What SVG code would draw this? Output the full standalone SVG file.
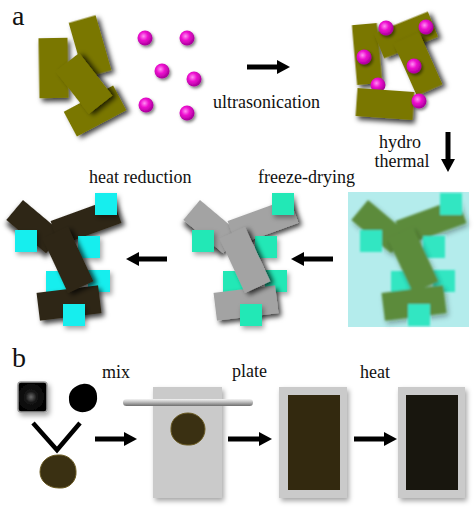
<svg xmlns="http://www.w3.org/2000/svg" width="474" height="531" viewBox="0 0 474 531">
<style>
text{font-family:"Liberation Serif","Times New Roman","DejaVu Serif",serif;fill:#111;}
.lbl{font-size:18px;}
.big{font-size:28px;}
.ol{fill:#7a7700;}
.dk{fill:#2e2515;}
.gy{fill:#a3a3a3;}
.gr{fill:#5b8b3b;}
.cy{fill:#12eeee;}
.tq{fill:#22e8b6;}
.tq2{fill:#30e6c2;}
.arr{stroke:#000;stroke-width:5;fill:none;}
</style>
<defs>
<filter id="sh" x="-40%" y="-40%" width="180%" height="180%">
<feDropShadow dx="2.5" dy="3.5" stdDeviation="2.6" flood-color="#000" flood-opacity="0.75"/>
</filter>
<filter id="sh2" x="-40%" y="-40%" width="180%" height="180%">
<feDropShadow dx="2" dy="3" stdDeviation="2.5" flood-color="#000" flood-opacity="0.35"/>
</filter>
<filter id="shs" x="-50%" y="-50%" width="200%" height="200%">
<feDropShadow dx="1.5" dy="2" stdDeviation="1.5" flood-color="#000" flood-opacity="0.5"/>
</filter>
<filter id="blur" x="-10%" y="-10%" width="120%" height="120%">
<feGaussianBlur stdDeviation="1.2"/>
</filter>
<radialGradient id="sph" cx="0.4" cy="0.38" r="0.62">
<stop offset="0" stop-color="#ff8ef2"/>
<stop offset="0.45" stop-color="#ee10d0"/>
<stop offset="1" stop-color="#a8009a"/>
</radialGradient>
<radialGradient id="blk" cx="0.45" cy="0.5" r="0.55">
<stop offset="0" stop-color="#6a6a6a"/>
<stop offset="0.35" stop-color="#151515"/>
<stop offset="1" stop-color="#000"/>
</radialGradient>
<linearGradient id="rod" x1="0" y1="0" x2="0" y2="1">
<stop offset="0" stop-color="#f4f4f4"/>
<stop offset="0.4" stop-color="#c4c4c4"/>
<stop offset="1" stop-color="#6e6e6e"/>
</linearGradient>
<marker id="ah" markerUnits="userSpaceOnUse" markerWidth="14" markerHeight="14" refX="2" refY="7" orient="auto">
<path d="M0,0 L13,7 L0,14 z" fill="#000"/>
</marker>
</defs>

<g id="label-a"><text class="big" x="12" y="25">a</text></g>

<g id="raw-materials">
<rect class="ol" x="-14.5" y="-30" width="29" height="60" transform="translate(53.5,68) rotate(-1)" filter="url(#sh)"/>
<rect class="ol" x="-14" y="-28.5" width="28" height="57" transform="translate(90,46.5) rotate(-16)" filter="url(#sh)"/>
<rect class="ol" x="-28" y="-14" width="56" height="28" transform="translate(95,111) rotate(-28)" filter="url(#sh)"/>
<rect class="ol" x="-15" y="-27" width="30" height="54" transform="translate(84,83.5) rotate(-38)" filter="url(#sh)"/>
</g>

<g id="nanoparticles" filter="url(#shs)">
<circle cx="145" cy="38" r="7.5" fill="url(#sph)"/>
<circle cx="187" cy="38" r="7.5" fill="url(#sph)"/>
<circle cx="162" cy="71" r="7.5" fill="url(#sph)"/>
<circle cx="194" cy="79" r="7.5" fill="url(#sph)"/>
<circle cx="146" cy="105" r="7.5" fill="url(#sph)"/>
<circle cx="187" cy="113" r="7.5" fill="url(#sph)"/>
</g>

<g id="step-ultrasonication"><text class="lbl" x="213" y="108">ultrasonication</text></g>

<g id="decorated">
<rect class="ol" x="-12.5" y="-30" width="25" height="60" transform="translate(367,54) rotate(-5)" filter="url(#sh)"/>
<rect class="ol" x="-29" y="-13.5" width="58" height="27" transform="translate(406,35) rotate(-22)" filter="url(#sh)"/>
<rect class="ol" x="-14" y="-28.5" width="28" height="57" transform="translate(418,64) rotate(-24)" filter="url(#sh)"/>
<circle cx="378" cy="85" r="7.5" fill="url(#sph)"/>
<rect class="ol" x="-28.5" y="-14" width="57" height="28" transform="translate(385,104) rotate(4)" filter="url(#sh)"/>
<g filter="url(#shs)">
<circle cx="386" cy="28" r="7.5" fill="url(#sph)"/>
<circle cx="426" cy="27" r="7.5" fill="url(#sph)"/>
<circle cx="364" cy="57" r="7.5" fill="url(#sph)"/>
<circle cx="414" cy="66" r="7.5" fill="url(#sph)"/>
<circle cx="419" cy="101" r="7.5" fill="url(#sph)"/>
</g>
</g>

<g id="step-hydrothermal">
<text class="lbl" x="400" y="148" text-anchor="middle">hydro</text>
<text class="lbl" x="402" y="167" text-anchor="middle">thermal</text>
</g>

<g id="hydrogel">
<rect x="348" y="192" width="121" height="135" fill="#b4ecec"/>
<g transform="translate(345,0)" filter="url(#blur)">
<g filter="url(#sh2)">
<rect class="gr" x="0" y="0" width="52" height="26" transform="translate(23,200) rotate(40)"/>
<rect class="gr" x="-33" y="-13" width="66" height="26" transform="translate(86,222) rotate(-20)"/>
</g>
<rect class="tq2" x="15" y="230" width="22" height="22"/>
<rect class="tq2" x="95" y="193" width="22" height="22"/>
<rect class="tq2" x="78" y="236" width="22" height="22"/>
<rect class="tq2" x="46" y="271" width="22" height="21"/>
<rect class="tq2" x="88" y="270" width="22" height="22"/>
<g filter="url(#sh2)">
<rect class="gr" x="-31" y="-14" width="62" height="28" transform="translate(69,303) rotate(-7)"/>
<rect class="gr" x="-14" y="-30" width="28" height="60" transform="translate(68,260) rotate(-25)"/>
</g>
<rect class="tq2" x="63" y="304" width="22" height="22"/>
</g>
</g>

<g id="step-freeze-drying"><text class="lbl" x="258" y="183">freeze-drying</text></g>

<g id="aerogel" transform="translate(177,0)">
<rect class="gy" x="0" y="0" width="52" height="26" transform="translate(23,200) rotate(40)" filter="url(#sh)"/>
<rect class="gy" x="-33" y="-13" width="66" height="26" transform="translate(86,222) rotate(-20)" filter="url(#sh)"/>
<g filter="url(#sh2)">
<rect class="tq" x="15" y="230" width="22" height="22"/>
<rect class="tq" x="95" y="193" width="22" height="22"/>
<rect class="tq" x="78" y="236" width="22" height="22"/>
<rect class="tq" x="46" y="271" width="22" height="21"/>
<rect class="tq" x="88" y="270" width="22" height="22"/>
</g>
<rect class="gy" x="-31" y="-14" width="62" height="28" transform="translate(69,303) rotate(-7)" filter="url(#sh)"/>
<rect class="gy" x="-14" y="-30" width="28" height="60" transform="translate(68,260) rotate(-25)" filter="url(#sh)"/>
<rect class="tq" x="63" y="304" width="22" height="22" filter="url(#sh2)"/>
</g>

<g id="step-heat-reduction"><text class="lbl" x="89" y="183">heat reduction</text></g>

<g id="reduced">
<rect class="dk" x="0" y="0" width="52" height="26" transform="translate(23,200) rotate(40)" filter="url(#sh)"/>
<rect class="dk" x="-33" y="-13" width="66" height="26" transform="translate(86,222) rotate(-20)" filter="url(#sh)"/>
<g filter="url(#sh2)">
<rect class="cy" x="15" y="230" width="22" height="22"/>
<rect class="cy" x="95" y="193" width="22" height="22"/>
<rect class="cy" x="78" y="236" width="22" height="22"/>
<rect class="cy" x="46" y="271" width="22" height="21"/>
<rect class="cy" x="88" y="270" width="22" height="22"/>
</g>
<rect class="dk" x="-31" y="-14" width="62" height="28" transform="translate(69,303) rotate(-7)" filter="url(#sh)"/>
<rect class="dk" x="-14" y="-30" width="28" height="60" transform="translate(68,260) rotate(-25)" filter="url(#sh)"/>
<rect class="cy" x="63" y="304" width="22" height="22" filter="url(#sh2)"/>
</g>

<g id="label-b"><text class="big" x="12" y="367">b</text></g>

<g id="precursors">
<rect x="18" y="382" width="29" height="30" rx="3" fill="url(#blk)" stroke="#9a9a9a" stroke-width="1.5" filter="url(#sh2)"/>
<path d="M83,384 C90,383 97,388 97,396 C98,404 93,411 85,412 C77,413 69,408 69,400 C68,391 75,385 83,384 Z" fill="#000"/>
<polyline points="33,423 57,450 80,423" fill="none" stroke="#000" stroke-width="4.5"/>
<path d="M58,455 C67,454 76,461 76,471 C77,481 69,489 59,488 C48,488 40,481 40,472 C40,462 48,455 58,455 Z" fill="#3a3012" stroke="#6a5a22" stroke-width="1"/>
</g>

<g id="step-mix"><text class="lbl" x="102" y="378">mix</text></g>

<g id="plate">
<rect x="153" y="387" width="69" height="111" fill="#cacaca" filter="url(#sh2)"/>
<rect x="123" y="399" width="130" height="7" rx="3.5" fill="url(#rod)"/>
<path d="M188,413 C197,413 205,420 205,429 C205,439 197,446 187,445 C178,445 170,438 171,428 C171,419 179,413 188,413 Z" fill="#3a3012" stroke="#6a5a22" stroke-width="1"/>
</g>

<g id="step-plate"><text class="lbl" x="232" y="377">plate</text></g>

<g id="film">
<rect x="279" y="387" width="68" height="111" fill="#cacaca" filter="url(#sh2)"/>
<rect x="288" y="395" width="52" height="95" fill="#33290f"/>
</g>

<g id="step-heat"><text class="lbl" x="360" y="378">heat</text></g>

<g id="heated-film">
<rect x="398" y="387" width="67" height="111" fill="#cacaca" filter="url(#sh2)"/>
<rect x="406" y="395" width="52" height="95" fill="#18160e"/>
</g>

<g id="connectors">
<line class="arr" x1="247" y1="67" x2="279" y2="67" marker-end="url(#ah)"/>
<line class="arr" x1="448" y1="132" x2="448" y2="161" marker-end="url(#ah)"/>
<line class="arr" x1="333" y1="259" x2="302" y2="259" marker-end="url(#ah)"/>
<line class="arr" x1="167" y1="259" x2="137" y2="259" marker-end="url(#ah)"/>
<line class="arr" x1="95" y1="439" x2="126" y2="439" marker-end="url(#ah)"/>
<line class="arr" x1="228" y1="439" x2="261" y2="439" marker-end="url(#ah)"/>
<line class="arr" x1="354" y1="439" x2="386" y2="439" marker-end="url(#ah)"/>
</g>
</svg>
